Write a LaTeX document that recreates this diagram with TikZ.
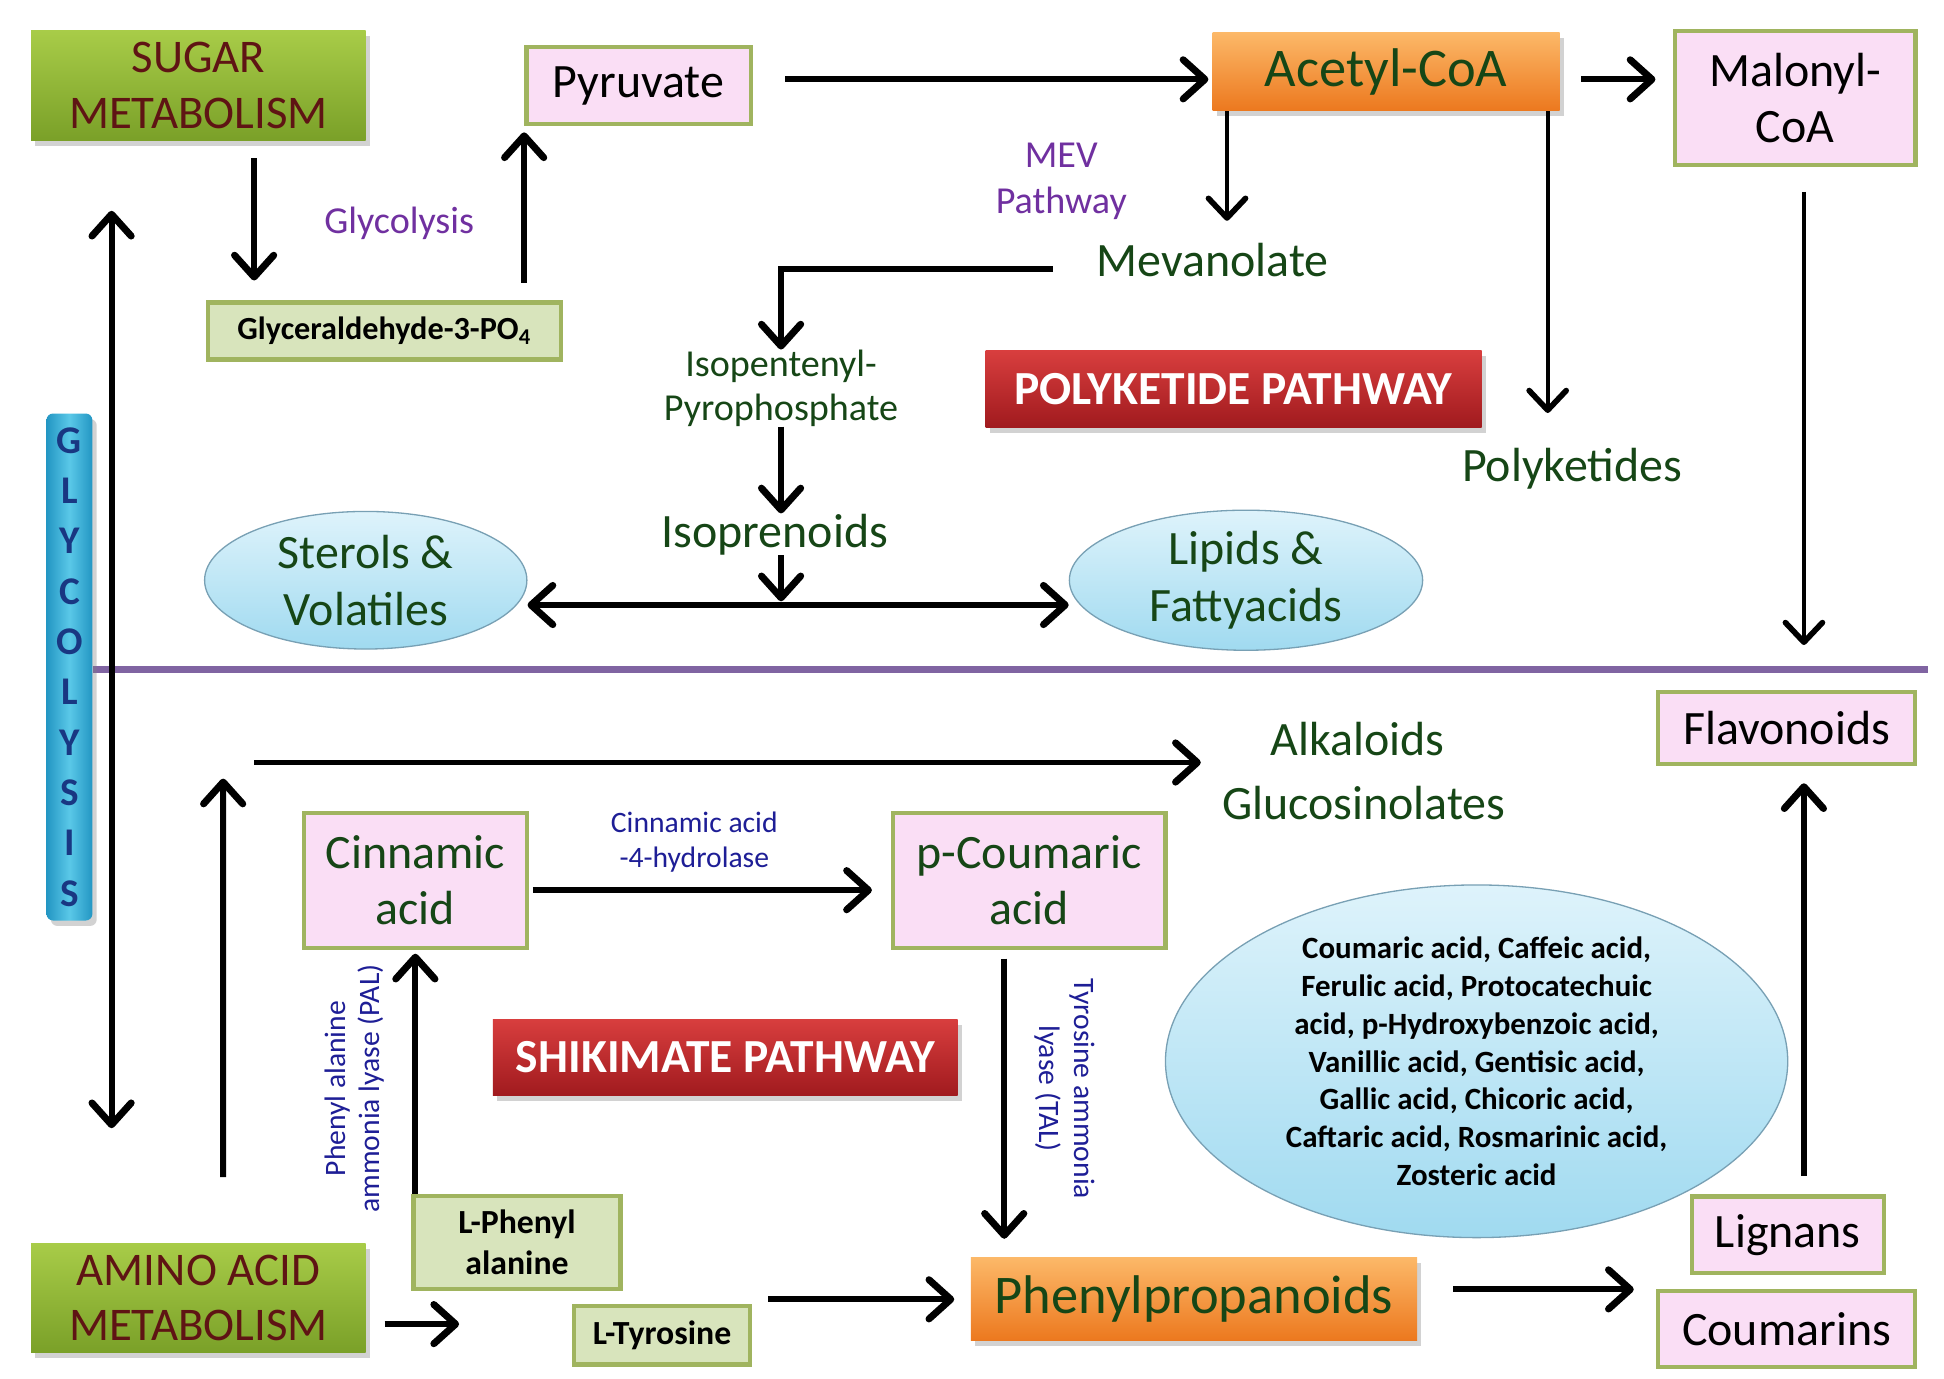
\documentclass[tikz,border=0pt]{standalone}
\usepackage{fontspec}
\setmainfont{Carlito}
\usepackage{tikz}
\usetikzlibrary{arrows.meta, positioning, shapes.geometric, shadows, calc}
\definecolor{pinkbox}{RGB}{250,222,245}
\definecolor{olivebrd}{RGB}{160,180,95}
\definecolor{palegreen}{RGB}{216,228,188}
\definecolor{darkgreen}{RGB}{22,70,22}
\definecolor{routepurple}{RGB}{112,48,160}
\definecolor{enzblue}{RGB}{30,30,150}
\definecolor{divider}{RGB}{128,100,162}
\definecolor{maroon}{RGB}{95,20,20}
\definecolor{leafhi}{RGB}{168,204,72}
\definecolor{leaflo}{RGB}{122,160,40}
\definecolor{orangehi}{RGB}{252,184,104}
\definecolor{orangelo}{RGB}{236,120,30}
\definecolor{redhi}{RGB}{216,62,62}
\definecolor{redlo}{RGB}{160,26,30}
\definecolor{poolhi}{RGB}{222,243,251}
\definecolor{poollo}{RGB}{160,218,240}
\definecolor{poolbrd}{RGB}{120,160,180}
\definecolor{barhi}{RGB}{90,200,232}
\definecolor{barlo}{RGB}{35,150,195}
\definecolor{barletter}{RGB}{25,55,130}

\tikzset{
  barb/.tip={Straight Barb[length=10pt,width=18pt,round,line width=3.2pt]},
  slimbarb/.tip={Straight Barb[length=9pt,width=17pt,round,line width=2.6pt]},
  arr/.style={line width=2.7pt, -barb},
  thinarr/.style={line width=2pt, -slimbarb},
  dblarr/.style={line width=2.7pt, barb-barb},
  shade/.style={drop shadow={shadow xshift=2pt, shadow yshift=-2.5pt, opacity=0.35}},
  metab/.style={shade, top color=leafhi, bottom color=leaflo, text=maroon,
    minimum width=5.4cm, minimum height=1.77cm, font=\fontsize{21.5}{25.5}\selectfont},
  compound/.style={fill=pinkbox, draw=olivebrd, line width=2pt, text=black,
    font=\fontsize{22}{26}\selectfont},
  precursor/.style={fill=palegreen, draw=olivebrd, line width=2pt, text=black,
    font=\bfseries\fontsize{15.5}{19}\selectfont},
  hub/.style={shade, top color=orangehi, bottom color=orangelo, text=darkgreen,
    font=\fontsize{25}{30}\selectfont},
  pathway/.style={shade, top color=redhi, bottom color=redlo, text=white,
    minimum height=1.24cm, font=\bfseries\fontsize{21.8}{26}\selectfont},
  pool/.style={ellipse, top color=poolhi, bottom color=poollo, draw=poolbrd,
    line width=0.6pt, text=darkgreen, font=\fontsize{22}{26}\selectfont},
  routelabel/.style={text=routepurple, font=\fontsize{17.5}{21}\selectfont},
  enzyme/.style={text=enzblue, font=\fontsize{13.6}{16}\selectfont},
  product/.style={text=darkgreen, font=\fontsize{22}{26}\selectfont},
}

\begin{document}
\begin{tikzpicture}[x=0.02cm, y=-0.02cm, every node/.append style={align=center, inner sep=0pt}]
\useasboundingbox (0,0) rectangle (1568,1112);
\fill[white] (0,0) rectangle (1568,1112);

% upper half: sugar side
\node[metab] (sugar) at (160,69) {SUGAR\\METABOLISM};
\node[compound, minimum width=3.62cm, minimum height=1.24cm] (pyr) at (515,69) {Pyruvate};
\node[hub, minimum width=5.6cm, minimum height=1.26cm] (acetyl) at (1118,58) {Acetyl-CoA};
\node[compound, minimum width=3.88cm, minimum height=2.16cm] (malonyl) at (1448,79) {Malonyl-\\CoA};
\node[precursor, font=\bfseries\fontsize{14.8}{18}\selectfont, minimum width=5.7cm, minimum height=0.92cm] (g3p) at (310,267) {Glyceraldehyde-3-PO\textsubscript{4}};
\node[routelabel] (glylab) at (322,180) {Glycolysis};
\node[routelabel] (mev) at (856,146) {MEV\\Pathway};
\node[product] (mevan) at (978,210) {Mevanolate};
\node[product, font=\fontsize{17.5}{20}\selectfont] (ipp) at (630,313) {Isopentenyl-\\Pyrophosphate};
\node[product] (isopren) at (625,431) {Isoprenoids};
\node[product] (polyk) at (1268,378) {Polyketides};
\node[pathway, minimum width=8cm] (pkpath) at (995,314) {POLYKETIDE PATHWAY};
\node[pool, minimum width=5.2cm, minimum height=2.22cm] (sterols) at (295,468) {Sterols \&\\Volatiles};
\node[pool, minimum width=5.7cm, minimum height=2.26cm] (lipids) at (1005,468) {Lipids \&\\Fattyacids};
\coordinate (bus) at (630,488);

% divider and glycolysis bar
\draw[divider, line width=2.8pt] (75,540) -- (1555,540);
\node[shade, rounded corners=3pt, left color=barlo, right color=barlo, middle color=barhi,
  minimum width=0.74cm, minimum height=8.18cm, text=barletter,
  font=\bfseries\fontsize{18}{23.1}\selectfont] (glybar) at (56,538) {G\\L\\Y\\C\\O\\L\\Y\\S\\I\\S};
\coordinate (gtop) at (90,170);
\coordinate (gbot) at (90,910);

% lower half: amino acid side
\node[metab] (amino) at (160,1047) {AMINO ACID\\METABOLISM};
\node[compound, minimum width=4.14cm, minimum height=1.16cm] (flav) at (1441,587) {Flavonoids};
\node[product] (alk) at (1095,596) {Alkaloids};
\node[product] (gluc) at (1100,648) {Glucosinolates};
\node[compound, text=darkgreen, minimum width=3.6cm, minimum height=2.18cm] (cinn) at (335,710) {Cinnamic\\acid};
\node[compound, text=darkgreen, minimum width=4.4cm, minimum height=2.18cm] (pcoum) at (830,710) {p-Coumaric\\acid};
\node[enzyme] (c4h) at (560,679) {Cinnamic acid\\-4-hydrolase};
\node[enzyme, rotate=90] (pal) at (286,878) {Phenyl alanine\\ammonia lyase (PAL)};
\node[enzyme, rotate=-90] (tal) at (859,878) {Tyrosine ammonia\\lyase (TAL)};
\node[pathway, minimum width=7.5cm] (skpath) at (585,853) {SHIKIMATE PATHWAY};
\node[pool, text=black, minimum width=10.04cm, minimum height=4.76cm,
  font=\bfseries\fontsize{14.2}{17.4}\selectfont] (acids) at (1191,856)
  {Coumaric acid, Caffeic acid,\\Ferulic acid, Protocatechuic\\acid, p-Hydroxybenzoic acid,\\Vanillic acid, Gentisic acid,\\Gallic acid, Chicoric acid,\\Caftaric acid, Rosmarinic acid,\\Zosteric acid};
\node[precursor, minimum width=3.34cm, minimum height=1.5cm] (lphe) at (417,1002) {L-Phenyl\\alanine};
\node[precursor, minimum width=2.84cm, minimum height=0.94cm] (ltyr) at (534,1077) {L-Tyrosine};
\node[hub, minimum width=7.2cm, minimum height=1.34cm] (phenyl) at (963,1048) {Phenylpropanoids};
\node[compound, minimum width=3.1cm, minimum height=1.24cm] (lignans) at (1442,996) {Lignans};
\node[compound, minimum width=4.14cm, minimum height=1.22cm] (coumarins) at (1441,1072) {Coumarins};
\coordinate (rise) at (180,628);
\coordinate (run) at (205,615);

% connectors, upper half
\draw[arr, shorten <=0.28cm, shorten >=0.32cm] ([xshift=0.9cm]sugar.south) -- ([xshift=0.9cm]sugar.south |- g3p.north);
\draw[arr, shorten <=0.28cm, shorten >=0.1cm] (g3p.north -| pyr.west) -- (pyr.south west);
\draw[arr, shorten <=0.52cm, shorten >=0.06cm] ([yshift=0.1cm]pyr.east) -- ([yshift=0.1cm]pyr.east -| acetyl.west);
\draw[arr, shorten <=0.34cm, shorten >=0.28cm] ([yshift=-0.12cm]acetyl.east) -- ([yshift=-0.12cm]acetyl.east -| malonyl.west);
\draw[thinarr, shorten >=0.36cm] ([xshift=0.24cm]acetyl.south west) -- ([xshift=0.24cm]acetyl.south west |- mevan.north);
\draw[thinarr, shorten >=0.56cm] ([xshift=-0.2cm]acetyl.south east) -- ([xshift=-0.2cm]acetyl.south east |- polyk.north);
\draw[arr] ([xshift=-0.7cm, yshift=-0.14cm]mevan.west) -| (ipp.north);
\draw[arr] (ipp.south) -- (ipp.south |- isopren.north);
\draw[arr, shorten >=0.06cm] (isopren.south -| bus) -- (bus);
\draw[dblarr] ([yshift=-0.4cm]sterols.east) -- ([yshift=-0.4cm]lipids.west);
\draw[thinarr, shorten <=0.4cm, shorten >=0.72cm] ([xshift=0.14cm]malonyl.south) -- ([xshift=0.14cm]malonyl.south |- flav.north);

% connectors, lower half
\draw[dblarr] (gtop) -- (gbot);
\draw[arr, shorten <=1.06cm] ([xshift=0.4cm]amino.north) -- (rise);
\draw[arr, shorten >=1.12cm] (run) -- (run -| alk.west);
\draw[arr, shorten <=0.06cm, shorten >=0.3cm] ([yshift=-0.16cm]cinn.east) -- ([yshift=-0.16cm]cinn.east -| pcoum.west);
\draw[arr, shorten >=0.06cm] (lphe.north -| cinn.south) -- (cinn.south);
\draw[arr, shorten <=0.14cm, shorten >=0.3cm] ([xshift=-0.4cm]pcoum.south) -- ([xshift=-0.4cm]pcoum.south |- phenyl.north);
\draw[arr, shorten <=0.3cm] ([yshift=-0.42cm]amino.east) -- ++(1.5cm,0);
\draw[arr, shorten <=0.26cm, shorten >=0.26cm] (ltyr.east |- phenyl.west) -- (phenyl.west);
\draw[arr, shorten <=0.58cm, shorten >=0.36cm] ([yshift=0.16cm]phenyl.east) -- ([yshift=0.16cm]phenyl.east -| coumarins.west);
\draw[arr, shorten <=0.3cm, shorten >=0.28cm] ([xshift=0.26cm]lignans.north) -- ([xshift=0.26cm]lignans.north |- flav.south);
\end{tikzpicture}
\end{document}
